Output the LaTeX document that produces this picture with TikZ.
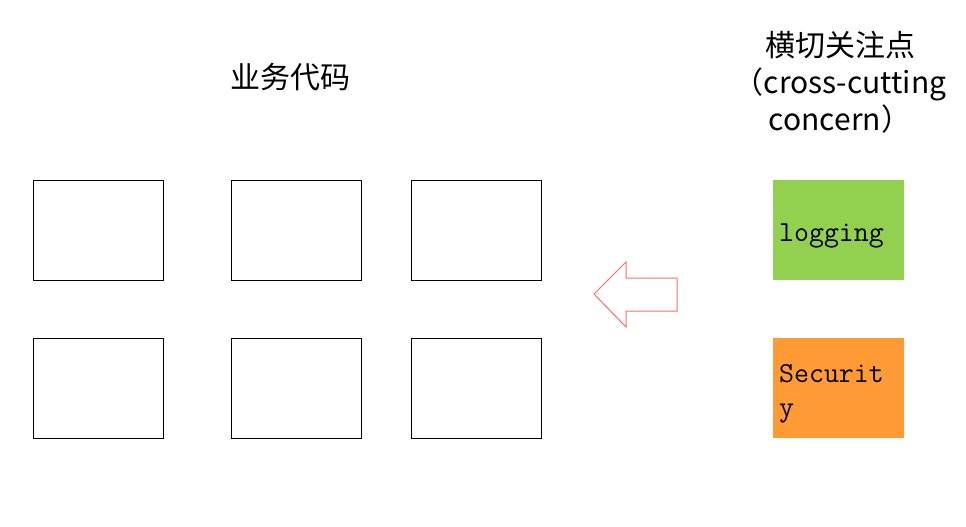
\documentclass[tikz,border=0pt]{standalone}
\usepackage{fontspec}
\newfontfamily\cjk{Noto Sans CJK SC}
\usepackage{tikz}
\definecolor{loggreen}{HTML}{92D050}
\definecolor{secorange}{HTML}{FF9A35}
\definecolor{arrowred}{HTML}{FF6B6B}
\tikzset{
  codebox/.style={draw, thin, minimum width=130pt, minimum height=100pt, inner sep=0pt},
  concernbox/.style={minimum width=131pt, minimum height=100pt, inner sep=0pt},
  concerntext/.style={anchor=base west, inner sep=0pt, font=\ttfamily\fontsize{29}{34}\selectfont}
}
\begin{document}
\begin{tikzpicture}[x=1pt, y=-1pt]
\def\titlefont{\cjk\fontsize{30}{37}\selectfont}
\useasboundingbox (0,0) rectangle (966,527);

\begin{scope} % BUSINESS CODE
\node [font=\titlefont] (codetitle) at (290, 77) {业务代码};

\node [codebox] (codea) at (98, 230) {};
\node [codebox] (codeb) at (296, 230) {};
\node [codebox] (codec) at (476, 230) {};
\node [codebox] (coded) at (98, 388) {};
\node [codebox] (codee) at (296, 388) {};
\node [codebox] (codef) at (476, 388) {};
\end{scope}

\begin{scope} % CROSS-CUTTING CONCERNS
\node [font=\titlefont, align=center, inner sep=0pt] (concerntitle) at (840, 82) {横切关注点\\（cross-cutting\\concern）};

\node [concernbox, fill=loggreen] (logging) at (838.5, 230) {};
\node [concernbox, fill=secorange] (security) at (838.5, 388) {};
\node [concerntext] (loggingtext) at (779, 241) {logging};
\node [concerntext, align=left] (securitytext) at (779, 416) {Securit\\y};
\end{scope}

% hollow arrow
\draw [arrowred, line width=1pt, line join=miter] (594, 294) -- (626, 262) -- (626, 278) -- (677, 278) -- (677, 311) -- (626, 311) -- (626, 327) -- cycle;
\end{tikzpicture}
\end{document}
